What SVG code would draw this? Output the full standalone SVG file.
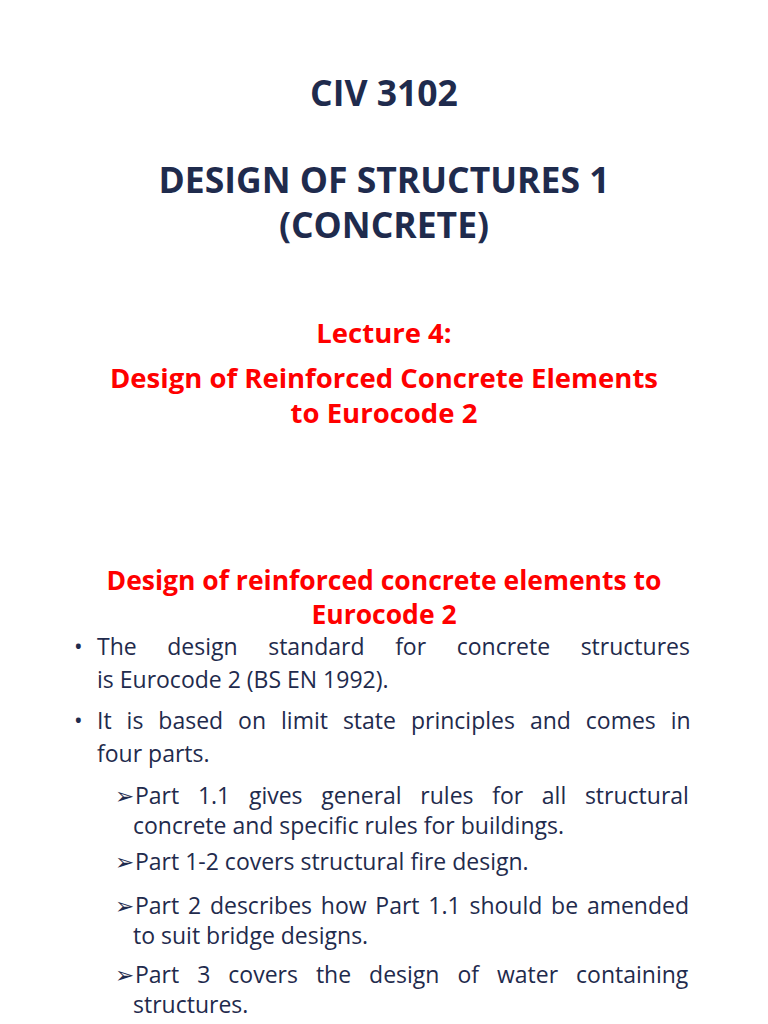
<svg xmlns="http://www.w3.org/2000/svg" width="768" height="1024" viewBox="0 0 768 1024">
<style>
.t{font-family:"Open Sans","Noto Sans",sans-serif;font-weight:bold;fill:#1f2b4d;text-anchor:middle;font-size:35.5px}
.r{font-family:"Open Sans","Noto Sans",sans-serif;font-weight:bold;fill:#ff0000;text-anchor:middle;font-size:27.5px}
.s{font-family:"Open Sans","Noto Sans",sans-serif;font-weight:bold;fill:#ff0000;text-anchor:middle;font-size:26.5px}
.b{font-family:"Open Sans","Noto Sans",sans-serif;fill:#1f2b4d;font-size:23px}
</style>
<rect width="768" height="1024" fill="#fff"/>
<g id="title">
<text class="t" x="384" y="106">CIV 3102</text>
<text class="t" x="384" y="193">DESIGN OF STRUCTURES 1</text>
<text class="t" x="384" y="238">(CONCRETE)</text>
</g>
<g id="lecture">
<text class="r" x="384" y="343">Lecture 4:</text>
<text class="r" x="384" y="388">Design of Reinforced Concrete Elements</text>
<text class="r" x="384" y="423">to Eurocode 2</text>
</g>
<g id="section">
<text class="s" x="384" y="590">Design of reinforced concrete elements to</text>
<text class="s" x="384" y="624">Eurocode 2</text>
</g>
<g id="bullets">
<text class="b" x="74" y="655">•</text>
<text class="b" x="97" y="655" word-spacing="24.6">The design standard for concrete structures</text>
<text class="b" x="97" y="688">is Eurocode 2 (BS EN 1992).</text>
<text class="b" x="74" y="729">•</text>
<text class="b" x="97" y="729" word-spacing="9">It is based on limit state principles and comes in</text>
<text class="b" x="97" y="762">four parts.</text>
<text class="b" x="115" y="804">➢</text>
<text class="b" x="135" y="804" word-spacing="12.7">Part 1.1 gives general rules for all structural</text>
<text class="b" x="133" y="834">concrete and specific rules for buildings.</text>
<text class="b" x="115" y="870">➢</text>
<text class="b" x="135" y="870">Part 1-2 covers structural fire design.</text>
<text class="b" x="115" y="914">➢</text>
<text class="b" x="135" y="914" word-spacing="2.8">Part 2 describes how Part 1.1 should be amended</text>
<text class="b" x="133" y="944">to suit bridge designs.</text>
<text class="b" x="115" y="983">➢</text>
<text class="b" x="135" y="983" word-spacing="12">Part 3 covers the design of water containing</text>
<text class="b" x="133" y="1013">structures.</text>
</g>
</svg>
